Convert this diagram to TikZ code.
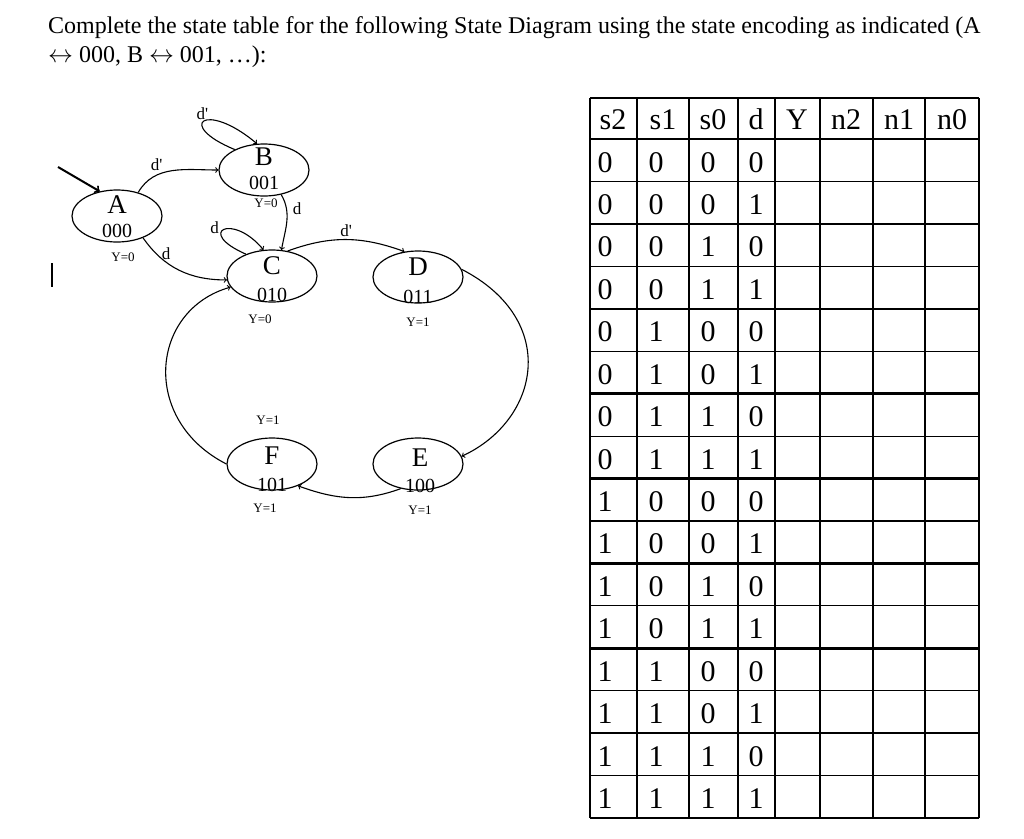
\documentclass[tikz,border=0pt]{standalone}
\usepackage{fontspec}
\setmainfont{Liberation Serif}
\usetikzlibrary{shapes.geometric}
\begin{document}
\begin{tikzpicture}[x=1pt,y=-1pt,
  st/.style={draw,ellipse,line width=1.2pt,minimum width=90pt,minimum height=52pt,inner sep=0pt},
  big/.style={font=\fontsize{27}{27}\selectfont,inner sep=0pt},
  code/.style={font=\fontsize{20}{20}\selectfont,inner sep=0pt},
  yl/.style={font=\fontsize{13}{13}\selectfont,inner sep=0pt},
  lab/.style={font=\fontsize{17}{17}\selectfont,inner sep=0pt},
  tr/.style={->,line width=1.1pt},
  cell/.style={font=\fontsize{30}{30}\selectfont,inner sep=0pt,anchor=base}]
\useasboundingbox (0,0) rectangle (1024,838);
\fill[white] (0,0) rectangle (1024,838);
\node[anchor=base west,inner sep=0pt,font=\fontsize{24}{24}\selectfont] (t1) at (48,33) {Complete the state table for the following State Diagram using the state encoding as indicated (A};
\node[anchor=base west,inner sep=0pt,font=\fontsize{24}{24}\selectfont] (t2) at (48,62) {$\leftrightarrow$ 000, B $\leftrightarrow$ 001, \dots):};
% states
\node[st] (A) at (117,216) {};
\node[st] (B) at (264,170) {};
\node[st] (C) at (272,276) {};
\node[st] (D) at (418,277) {};
\node[st] (E) at (418,464) {};
\node[st] (F) at (272,464) {};
\node[big] (Al) at (117,205) {A}; \node[code] (Ac) at (117,231) {000}; \node[yl] (Ay) at (123,257) {Y=0};
\node[big] (Bl) at (264,157) {B}; \node[code] (Bc) at (264,183) {001}; \node[yl] (By) at (266,203) {Y=0};
\node[big] (Cl) at (272,266) {C}; \node[code] (Cc) at (272,295) {010}; \node[yl] (Cy) at (260,319) {Y=0};
\node[big] (Dl) at (418,267) {D}; \node[code] (Dc) at (418,297) {011}; \node[yl] (Dy) at (418,322) {Y=1};
\node[big] (El) at (420,458) {E}; \node[code] (Ec) at (420,486) {100}; \node[yl] (Ey) at (420,510) {Y=1};
\node[big] (Fl) at (272,456) {F}; \node[code] (Fc) at (272,485) {101}; \node[yl] (Fy) at (265,508) {Y=1};
\node[yl] (Fy2) at (268,420) {Y=1};
% start
\coordinate (s0) at (58,167);
\draw[->,line width=2pt] (s0) -- (A.125);
\coordinate (bar1) at (52,263); \coordinate (bar2) at (52,287);
\draw[line width=1.2pt] (bar1) -- (bar2);
% transitions
\draw[tr] (A.48) to[out=60,in=180] node[lab,pos=0.3,above=4pt] {d\textquotesingle} (B.180);
\draw[tr] (A.-40) to[out=-55,in=180] node[lab,pos=0.2,right=5pt] {d} (C.185);
\draw[tr] (B.145) .. controls (175,125) and (205,100) .. node[lab,pos=0.45,above=2pt] {d\textquotesingle} (B.105);
\draw[tr] (B.-55) to[out=-60,in=80] node[lab,pos=0.25,right=6pt] {d} (C.70);
\draw[tr] (C.140) .. controls (195,232) and (232,212) .. node[lab,pos=0.3,above left=2pt] {d} (C.108);
\draw[tr] (C.58) to[out=20,in=160] node[lab,pos=0.5,above=2pt] {d\textquotesingle} (D.118);
\draw[tr] (D.10) .. controls (560,320) and (540,420) .. (E.10);
\draw[tr] (E.-125) to[out=200,in=-20] (F.-40);
\draw[tr] (F.180) .. controls (140,420) and (150,310) .. (C.195);
% table
\foreach \x in {590,637,689,738,820,873,925,979} \draw[line width=1.1pt] (\x,98) -- (\x,818);
\draw[line width=2.5pt] (775,98) -- (775,818);
\draw[line width=1.1pt] (590,98) -- (979,98);
\foreach \i in {0,...,16} {
  \pgfmathsetmacro\yy{139+42.44*\i}
  \pgfmathtruncatemacro\odd{mod(\i,2)}
  \ifnum\odd=0 \draw[line width=2.5pt] (590,\yy) -- (979,\yy); \else \draw[line width=1.1pt] (590,\yy) -- (979,\yy); \fi
}
\foreach \h/\x in {s2/613,s1/663,s0/713,d/756,Y/797,n2/846,n1/899,n0/952}
  \node[cell] (h\h) at (\x,129) {\h};
\foreach \i in {0,...,15} {
  \pgfmathsetmacro\yy{139+42.44*\i+33}
  \pgfmathtruncatemacro\bA{div(\i,8)}
  \pgfmathtruncatemacro\bB{mod(div(\i,4),2)}
  \pgfmathtruncatemacro\bC{mod(div(\i,2),2)}
  \pgfmathtruncatemacro\bD{mod(\i,2)}
  \node[cell] (ra\i) at (605,\yy) {\bA};
  \node[cell] (rb\i) at (656,\yy) {\bB};
  \node[cell] (rc\i) at (708,\yy) {\bC};
  \node[cell] (rd\i) at (756,\yy) {\bD};
}
\end{tikzpicture}
\end{document}
